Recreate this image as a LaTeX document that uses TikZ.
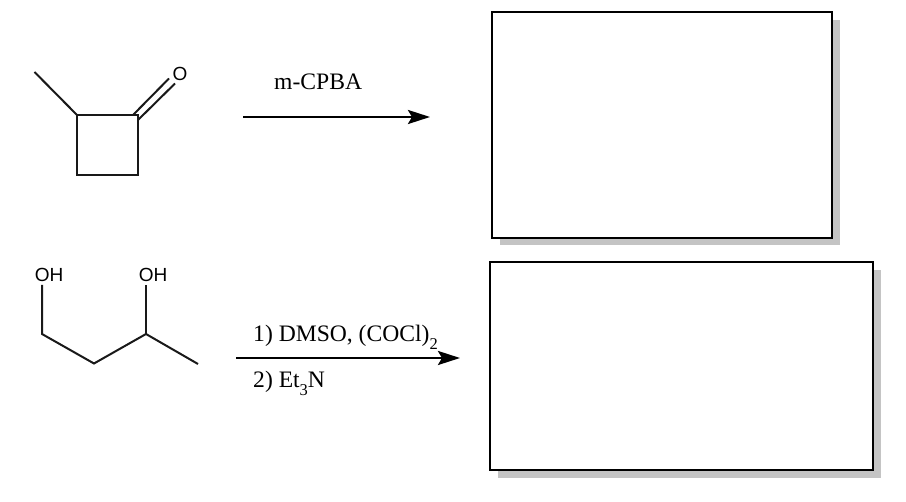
\documentclass[tikz,border=0pt]{standalone}
\usepackage{fontspec}
\setmainfont{Liberation Serif}
\newfontfamily\atomfont{Liberation Sans}
\usetikzlibrary{arrows.meta}
\newcommand{\lowered}[1]{\raisebox{-0.3em}{\fontsize{16.5}{16.5}\selectfont #1}}
\definecolor{shadowgray}{HTML}{C4C4C4}
\tikzset{
  bond/.style={line width=2pt,black!90,line join=miter,line cap=butt},
  reaction/.style={line width=2.6pt,black,-{Stealth[length=22pt,width=14pt,inset=4pt]}},
  answerbox/.style={draw=black,line width=2pt,fill=white},
  boxshadow/.style={fill=shadowgray,draw=none},
  atom/.style={font=\atomfont\fontsize{19}{19}\selectfont,inner sep=0pt,anchor=center},
  reagent/.style={font=\fontsize{23.6}{23.6}\selectfont,inner sep=0pt,anchor=base west}
}
\begin{document}
\begin{tikzpicture}[x=1pt,y=-1pt]
\useasboundingbox (0,0) rectangle (906,502);
\fill[white] (0,0) rectangle (906,502);
% answer boxes
\fill[boxshadow] (500,20) rectangle (840,245);
\draw[answerbox] (492,12) rectangle (832,238);
\fill[boxshadow] (498,270) rectangle (881,478);
\draw[answerbox] (490,262) rectangle (873,470);
% ketone
\coordinate (me) at (34.5,72);
\coordinate (c1) at (77,115);
\coordinate (c2) at (138,115);
\coordinate (c3) at (138,175.5);
\coordinate (c4) at (77,175.5);
\coordinate (da1) at (133,115);
\coordinate (da2) at (169,78.5);
\coordinate (db1) at (138,120);
\coordinate (db2) at (175,83.5);
\node[atom] (oxy) at (180,73.5) {O};
\draw[bond] (me) -- (c1);
\draw[bond] (c1) -- (c2) -- (c3) -- (c4) -- cycle;
\draw[bond] (da1) -- (da2);
\draw[bond] (db1) -- (db2);
% diol
\node[atom] (oha) at (49,275) {OH};
\node[atom] (ohb) at (153,275) {OH};
\coordinate (d1) at (42,334);
\coordinate (d2) at (94,363.5);
\coordinate (d3) at (146,334);
\coordinate (d4) at (198,364);
\coordinate (oa) at (42,285);
\coordinate (ob) at (146,285);
\draw[bond] (oa) -- (d1) -- (d2) -- (d3) -- (d4);
\draw[bond] (d3) -- (ob);
% arrows
\coordinate (ra1) at (243,117);
\coordinate (ra2) at (430,117);
\coordinate (rb1) at (236,358);
\coordinate (rb2) at (460,358);
\draw[reaction] (ra1) -- (ra2);
\draw[reaction] (rb1) -- (rb2);
% reagents
\node[reagent] (mcpba) at (274,90) {m-CPBA};
\node[reagent] (dmso) at (253,342) {1) DMSO, (COCl)\lowered{2}};
\node[reagent] (et) at (253,388) {2) Et\lowered{3}N};
\end{tikzpicture}
\end{document}
